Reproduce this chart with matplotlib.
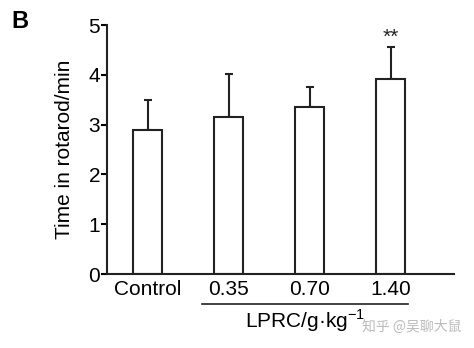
import matplotlib.pyplot as plt
from matplotlib.lines import Line2D

# data
groups = ["Control", "0.35", "0.70", "1.40"]
means = [2.90, 3.15, 3.35, 3.92]
sem = [0.59, 0.87, 0.41, 0.63]
marks = ["", "", "", "**"]

plt.rcParams['font.family'] = ['Liberation Sans', 'DejaVu Sans']

fig = plt.figure(figsize=(4.74, 3.48), dpi=100)
ax = fig.add_axes([0.2257, 0.2126, 0.7323, 0.7155])

x = list(range(len(groups)))
ax.bar(x, means, width=0.36, color="white", edgecolor="#222222", linewidth=1.5, zorder=2)
ax.errorbar(x, means, yerr=[[0] * len(sem), sem], fmt="none", ecolor="#222222",
            elinewidth=1.5, capsize=2.8, capthick=1.5, zorder=1)
for xi, m, s, t in zip(x, means, sem, marks):
    if t:
        ax.text(xi, m + s + 0.02, t, ha="center", va="bottom", fontsize=15, color="#222222")

ax.set_xlim(-0.5, 3.78)
ax.set_ylim(0, 5)
ax.set_yticks(range(6))
ax.set_xticks(x)
ax.set_xticklabels(groups, fontsize=15)
ax.tick_params(axis="x", length=0, pad=4)
ax.tick_params(axis="y", labelsize=15, length=4, width=1.5, pad=1)
for s in ["top", "right"]:
    ax.spines[s].set_visible(False)
for s in ["left", "bottom"]:
    ax.spines[s].set_linewidth(1.5)
    ax.spines[s].set_color("#222222")
ax.set_ylabel("Time in rotarod/min", fontsize=15, labelpad=10)

# bracket under the dose groups
fig.add_artist(Line2D([202 / 474, 408 / 474], [1 - 304 / 348, 1 - 304 / 348],
                      color="#222222", linewidth=1.2))
fig.text(305 / 474, 1 - 321 / 348, r"LPRC/g·kg$^{\mathregular{-1}}$", ha="center", va="center",
         fontsize=15)

fig.text(11 / 474, 1 - 22 / 348, "B", fontsize=17, fontweight="bold", va="center", ha="left")
fig.text(462 / 474, 1 - 327 / 348, "知乎 @吴聊大鼠", ha="right", va="center", fontsize=10,
         color="#bbbbbb", family=["Noto Sans CJK SC", "DejaVu Sans"])

fig.savefig("out.png", dpi=100)
